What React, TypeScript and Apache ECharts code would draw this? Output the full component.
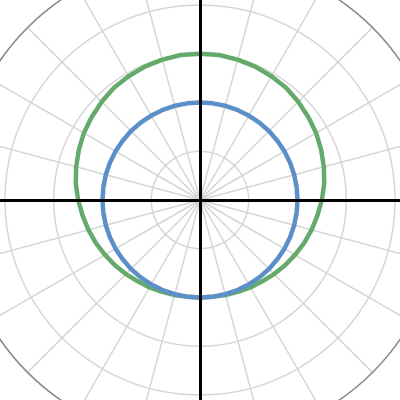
import React, { useEffect, useRef } from 'react';
import * as echarts from 'echarts';

const angles = [
    0, 7.5, 15, 22.5, 30, 37.5, 45, 52.5, 60, 67.5, 75, 82.5,
    90, 97.5, 105, 112.5, 120, 127.5, 135, 142.5, 150, 157.5, 165, 172.5,
    180, 187.5, 195, 202.5, 210, 217.5, 225, 232.5, 240, 247.5, 255, 262.5,
    270, 277.5, 285, 292.5, 300, 307.5, 315, 322.5, 330, 337.5, 345, 352.5, 360,
];
const blueRadii = [
    2, 2, 2, 2, 2, 2, 2, 2, 2, 2, 2, 2,
    2, 2, 2, 2, 2, 2, 2, 2, 2, 2, 2, 2,
    2, 2, 2, 2, 2, 2, 2, 2, 2, 2, 2, 2,
    2, 2, 2, 2, 2, 2, 2, 2, 2, 2, 2, 2, 2,
];
const greenRadii = [
    2.5, 2.57, 2.63, 2.69, 2.75, 2.8, 2.85, 2.9, 2.93, 2.96, 2.98, 3.0,
    3.0, 3.0, 2.98, 2.96, 2.93, 2.9, 2.85, 2.8, 2.75, 2.69, 2.63, 2.57,
    2.5, 2.43, 2.37, 2.31, 2.25, 2.2, 2.15, 2.1, 2.07, 2.04, 2.02, 2.0,
    2.0, 2.0, 2.02, 2.04, 2.07, 2.1, 2.15, 2.2, 2.25, 2.31, 2.37, 2.43, 2.5,
];

const radiusMax = 5;
const angleStep = 15;

const App: React.FC = () => {
    const chartRef = useRef<HTMLDivElement>(null);

    useEffect(() => {
        if (!chartRef.current) return;
        const chart = echarts.init(chartRef.current, undefined, { renderer: 'svg' });

        const hidden = { show: false };
        const option = {
            animation: false,
            backgroundColor: '#fff',
            polar: { center: ['50%', '50%'], radius: 243.75 },
            angleAxis: {
                type: 'value',
                min: 0,
                max: 360,
                interval: angleStep,
                startAngle: 0,
                clockwise: false,
                axisLine: { show: true, lineStyle: { color: '#8c8c8c', width: 1.5 } },
                axisTick: hidden,
                axisLabel: hidden,
                splitLine: { show: true, lineStyle: { color: '#d6d6d6', width: 1.5 } },
            },
            radiusAxis: {
                type: 'value',
                min: 0,
                max: radiusMax,
                interval: 1,
                axisLine: hidden,
                axisTick: hidden,
                axisLabel: hidden,
                splitLine: { show: true, lineStyle: { color: '#d6d6d6', width: 1.5 } },
            },
            grid: { left: 0, right: 0, top: 0, bottom: 0 },
            xAxis: {
                type: 'value',
                min: -1,
                max: 1,
                z: 10,
                axisLine: { onZero: true, lineStyle: { color: '#000', width: 3 } },
                axisTick: hidden,
                axisLabel: hidden,
                splitLine: hidden,
            },
            yAxis: {
                type: 'value',
                min: -1,
                max: 1,
                z: 10,
                axisLine: { onZero: true, lineStyle: { color: '#000', width: 3 } },
                axisTick: hidden,
                axisLabel: hidden,
                splitLine: hidden,
            },
            series: [
                {
                    name: 'green',
                    type: 'line',
                    coordinateSystem: 'polar',
                    data: greenRadii.map((r, i) => [r, angles[i]]),
                    showSymbol: false,
                    lineStyle: { color: '#64aa6a', width: 4.5, join: 'round' },
                },
                {
                    name: 'blue',
                    type: 'line',
                    coordinateSystem: 'polar',
                    data: blueRadii.map((r, i) => [r, angles[i]]),
                    showSymbol: false,
                    lineStyle: { color: '#5b8fc9', width: 4.5, join: 'round' },
                },
            ],
        };

        chart.setOption(option);
        return () => {
            chart.dispose();
        };
    }, []);

    return <div ref={chartRef} style={{ position: 'fixed', left: 0, top: 0, width: 400, height: 400 }} />;
};

export default App;
